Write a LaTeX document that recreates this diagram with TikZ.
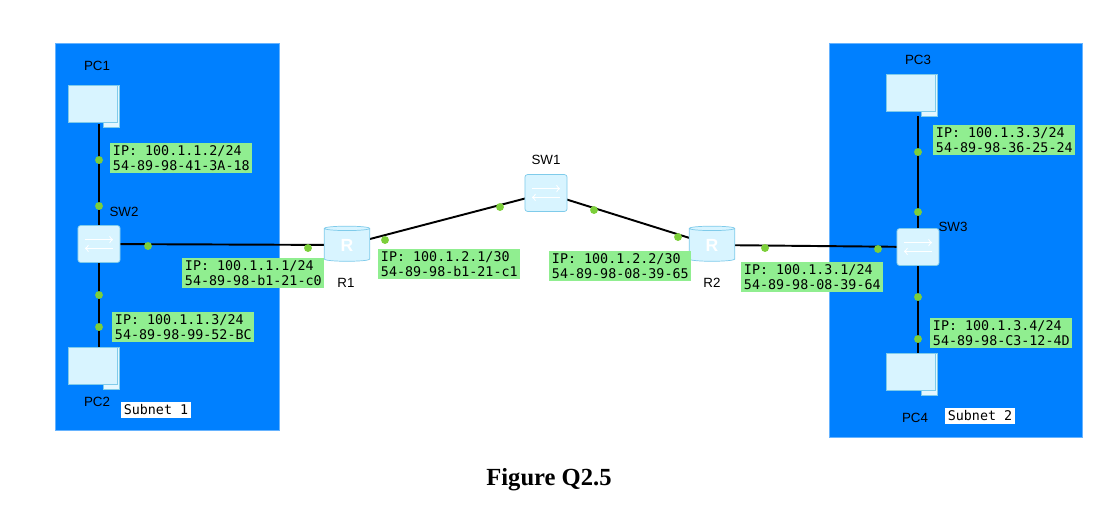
\documentclass[tikz,border=0pt]{standalone}
\usepackage{fontspec}
\setmainfont{Liberation Serif}
\newfontfamily\lblfont{Liberation Sans}
\newfontfamily\monofont{DejaVu Sans Mono}
\usetikzlibrary{positioning,shapes.geometric}
\definecolor{netblue}{HTML}{0080FF}
\definecolor{tag}{HTML}{90EE90}
\definecolor{port}{HTML}{7CCF3A}
\definecolor{dev}{HTML}{D8F4FF}
\definecolor{devedge}{HTML}{7FCBEA}
\tikzset{
  subnet/.style={fill=netblue, draw=netblue!60},
  ip/.style={fill=tag, inner sep=1.5pt, align=left, font=\monofont\fontsize{7.6}{8.4}\selectfont, anchor=north west},
  devname/.style={font=\lblfont\fontsize{7.6}{9}\selectfont},
  box/.style={fill=white, inner sep=1.5pt, font=\monofont\fontsize{7.6}{9}\selectfont},
  dot/.style={circle, fill=port, inner sep=0pt, minimum size=4.5pt},
  pc/.style={rectangle, fill=dev, draw=devedge, minimum width=28pt, minimum height=21pt, inner sep=0pt},
  tower/.style={rectangle, fill=dev!70, draw=devedge, minimum width=9pt, minimum height=24pt, inner sep=0pt},
  sw/.style={rectangle, rounded corners=1.5pt, fill=dev, draw=devedge, minimum width=24pt, minimum height=21pt, inner sep=0pt},
  rt/.style={cylinder, shape border rotate=90, aspect=0.35, fill=dev, draw=devedge, minimum width=26pt, minimum height=20pt, inner sep=0pt, text=white, font=\lblfont\bfseries\fontsize{10}{10}\selectfont},
  link/.style={line width=1.1pt}
}
\begin{document}
\begin{tikzpicture}[x=0.02cm,y=-0.02cm]
  \useasboundingbox (0,0) rectangle (1099,505);
  % subnets
  \fill[subnet] (55,43) rectangle (279,430);
  \fill[subnet] (829,43) rectangle (1082,437);
  % links
  \coordinate (pc1p) at (99,124);
  \coordinate (pc2p) at (99,350);
  \coordinate (pc3p) at (918,116);
  \coordinate (pc4p) at (918,355);
  \coordinate (sw2c) at (99,244);
  \coordinate (sw3c) at (918,247);
  \draw[link] (pc1p) -- (pc2p);
  \draw[link] (pc3p) -- (pc4p);
  \draw[link] (sw2c) -- (347,245) coordinate (r1c);
  \draw[link] (r1c) -- (546,193) coordinate (sw1c);
  \draw[link] (sw1c) -- (712,245) coordinate (r2c);
  \draw[link] (r2c) -- (sw3c);
  % devices
  \node[tower] (pc1t) at (111,106) {};
  \node[pc] (pc1) at (93,104) {};
  \node[sw] (sw2) at (sw2c) {};
  \node[tower] (pc2t) at (111,368) {};
  \node[pc] (pc2) at (93,366) {};
  \node[rt] (r1) at (r1c) {R};
  \node[sw] (sw1) at (sw1c) {};
  \node[rt] (r2) at (r2c) {R};
  \node[tower] (pc3t) at (929,95) {};
  \node[pc] (pc3) at (911,93) {};
  \node[sw] (sw3) at (sw3c) {};
  \node[tower] (pc4t) at (929,374) {};
  \node[pc] (pc4) at (911,372) {};
  % switch arrows
  \foreach \s in {sw1,sw2,sw3}{
    \draw[white, line width=0.6pt, ->] ([xshift=-8pt,yshift=2.5pt]\s.center) -- ([xshift=8pt,yshift=2.5pt]\s.center);
    \draw[white, line width=0.6pt, ->] ([xshift=8pt,yshift=-2.5pt]\s.center) -- ([xshift=-8pt,yshift=-2.5pt]\s.center);
  }
  % names
  \node[devname] (pc1n) at (97,66) {PC1};
  \node[devname] (sw2n) at (124,212) {SW2};
  \node[devname] (pc2n) at (97,402) {PC2};
  \node[devname] (r1n) at (346,283) {R1};
  \node[devname] (sw1n) at (546,160) {SW1};
  \node[devname] (r2n) at (712,283) {R2};
  \node[devname] (pc3n) at (918,60) {PC3};
  \node[devname] (sw3n) at (953,227) {SW3};
  \node[devname] (pc4n) at (915,418) {PC4};
  \node[box] (sub1) at (156,410) {Subnet 1};
  \node[box] (sub2) at (980,416) {Subnet 2};
  % ports
  \foreach \p in {(99,160),(99,206),(99,295),(99,327),(148,246),(308,248),
                  (385,240),(500,207),(594,210),(678,237),(765,248),(878,249),
                  (918,152),(918,212),(918,297),(918,339)}
    \node[dot] at \p {};
  % addresses
  \node[ip] (ip1) at (110,143) {IP: 100.1.1.2/24\\54-89-98-41-3A-18};
  \node[ip] (ip2) at (182,258) {IP: 100.1.1.1/24\\54-89-98-b1-21-c0};
  \node[ip] (ip3) at (112,312) {IP: 100.1.1.3/24\\54-89-98-99-52-BC};
  \node[ip] (ip4) at (378,249) {IP: 100.1.2.1/30\\54-89-98-b1-21-c1};
  \node[ip] (ip5) at (549,251) {IP: 100.1.2.2/30\\54-89-98-08-39-65};
  \node[ip] (ip6) at (741,262) {IP: 100.1.3.1/24\\54-89-98-08-39-64};
  \node[ip] (ip7) at (933,125) {IP: 100.1.3.3/24\\54-89-98-36-25-24};
  \node[ip] (ip8) at (930,318) {IP: 100.1.3.4/24\\54-89-98-C3-12-4D};
  % caption
  \node[font=\bfseries\fontsize{14}{16}\selectfont] (cap) at (549,480) {Figure Q2.5};
\end{tikzpicture}
\end{document}
